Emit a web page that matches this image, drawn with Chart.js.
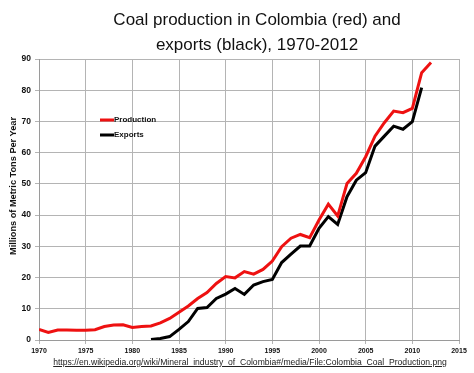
<!DOCTYPE html>
<html>
<head>
<meta charset="utf-8">
<script src="https://cdn.jsdelivr.net/npm/chart.js@4/dist/chart.umd.min.js"></script>
<style>
  html, body { margin: 0; padding: 0; background: #fff; }
  #wrap { position: relative; width: 474px; height: 373px; overflow: hidden; }
  #c { position: absolute; left: 0; top: 0; }
  #title { position: absolute; left: 22px; width: 470px; top: 7px; text-align: center;
           font-family: "Liberation Sans", Arial, sans-serif; font-size: 17px; line-height: 25px; color: #111; }
  #ytitle { position: absolute; left: 13px; top: 186px; width: 200px; margin-left: -100px; margin-top: -6px;
            height: 12px; line-height: 12px; text-align: center; transform: rotate(-90deg);
            font-family: "Liberation Sans", Arial, sans-serif; font-weight: bold; font-size: 9.2px; color: #111; white-space: nowrap; }
  #src { position: absolute; left: -3px; width: 506px; top: 357px; text-align: center;
         font-family: "Liberation Sans", Arial, sans-serif; font-size: 8.6px; color: #222; text-decoration: underline; }
</style>
</head>
<body>
<div id="wrap">
  <canvas id="c" width="474" height="373"></canvas>
  <div id="title">Coal production in Colombia (red) and<br>exports (black), 1970-2012</div>
  <div id="ytitle">Millions of Metric Tons Per Year</div>
  <div id="src">https://en.wikipedia.org/wiki/Mineral_industry_of_Colombia#/media/File:Colombia_Coal_Production.png</div>
</div>
<script>
const years = [1970,1971,1972,1973,1974,1975,1976,1977,1978,1979,1980,1981,1982,1983,1984,1985,1986,1987,1988,1989,1990,1991,1992,1993,1994,1995,1996,1997,1998,1999,2000,2001,2002,2003,2004,2005,2006,2007,2008,2009,2010,2011,2012];
const production = [3.4,2.4,3.2,3.2,3.1,3.1,3.3,4.3,4.8,4.9,4.0,4.3,4.5,5.5,6.9,8.9,10.9,13.3,15.2,18.1,20.3,19.9,21.9,21.1,22.6,25.3,29.9,32.6,33.8,32.8,38.4,43.5,39.7,50.1,53.4,58.7,65.3,69.6,73.3,72.8,74.2,85.6,88.9];
const exportYears = [1982,1983,1984,1985,1986,1987,1988,1989,1990,1991,1992,1993,1994,1995,1996,1997,1998,1999,2000,2001,2002,2003,2004,2005,2006,2007,2008,2009,2010,2011];
const exportsV = [0.2,0.5,1.1,3.4,5.9,10.1,10.4,13.3,14.7,16.5,14.6,17.6,18.7,19.4,24.8,27.5,30.1,30.1,35.8,39.5,37.0,45.9,51.2,53.6,62.1,65.3,68.5,67.5,69.9,80.8];
const xTicks = [1970,1975,1980,1985,1990,1995,2000,2005,2010,2015];
const yTicks = [0,10,20,30,40,50,60,70,80,90];
const seriesNames = ["Production","Exports"];
const seriesColors = ["#ee1111","#000000"];

const legendPlugin = {
  id: 'inLegend',
  afterDatasetsDraw(chart) {
    const ctx = chart.ctx;
    ctx.save();
    const x0 = 100, ys = [120, 135];
    chart.data.datasets.forEach((ds, i) => {
      ctx.strokeStyle = ds.borderColor;
      ctx.lineWidth = 3;
      ctx.beginPath();
      ctx.moveTo(x0, ys[i]);
      ctx.lineTo(x0 + 14, ys[i]);
      ctx.stroke();
      ctx.fillStyle = '#111';
      ctx.font = 'bold 8px "Liberation Sans", Arial, sans-serif';
      ctx.textBaseline = 'middle';
      ctx.fillText(ds.label, x0 + 14, ys[i]);
    });
    ctx.restore();
  }
};

new Chart(document.getElementById('c'), {
  type: 'line',
  data: {
    datasets: [
      { label: seriesNames[0], data: years.map((y, i) => ({x: y, y: production[i]})),
        borderColor: seriesColors[0], borderWidth: 3, pointRadius: 0, tension: 0, fill: false },
      { label: seriesNames[1], data: exportYears.map((y, i) => ({x: y, y: exportsV[i]})),
        borderColor: seriesColors[1], borderWidth: 3, pointRadius: 0, tension: 0, fill: false }
    ]
  },
  options: {
    responsive: false,
    animation: false,
    devicePixelRatio: 1,
    layout: { padding: { top: 59, right: 15, left: 0, bottom: 0 } },
    plugins: { legend: { display: false }, tooltip: { enabled: false }, title: { display: false } },
    scales: {
      x: {
        type: 'linear', min: xTicks[0], max: xTicks[xTicks.length - 1],
        afterBuildTicks: s => { s.ticks = xTicks.map(v => ({value: v})); },
        afterFit: s => { s.height = 33; },
        grid: { color: '#b4b4b4', lineWidth: 1, tickLength: 4, drawTicks: true },
        border: { color: '#9a9a9a' },
        ticks: { color: '#111', font: { family: '"Liberation Sans", Arial, sans-serif', size: 7, weight: 'bold' },
                 padding: 3, maxRotation: 0, autoSkip: false, callback: v => String(v) }
      },
      y: {
        min: yTicks[0], max: yTicks[yTicks.length - 1],
        afterBuildTicks: s => { s.ticks = yTicks.map(v => ({value: v})); },
        afterFit: s => { s.width = 39; },
        grid: { color: '#b4b4b4', lineWidth: 1, tickLength: 4, drawTicks: true },
        border: { color: '#9a9a9a' },
        title: { display: false },
        ticks: { color: '#111', font: { family: '"Liberation Sans", Arial, sans-serif', size: 8.5, weight: 'bold' }, padding: 4 }
      }
    }
  },
  plugins: [legendPlugin]
});
</script>
</body>
</html>
